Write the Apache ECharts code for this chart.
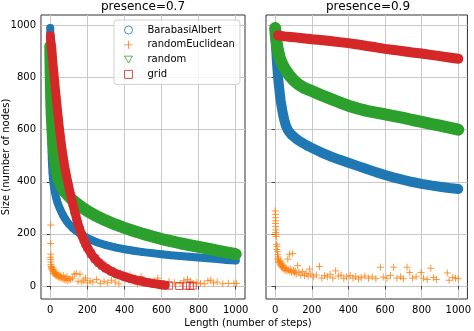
<!DOCTYPE html>
<html>
<head>
<meta charset="utf-8">
<script src="https://cdn.jsdelivr.net/npm/echarts@6/dist/echarts.min.js"></script>
<style>html,body{margin:0;padding:0;background:#fff}#c{width:474px;height:331px}</style>
</head>
<body>
<div id="c"></div>
<script>
// ---- data ----
var panelTitles = ['presence=0.7', 'presence=0.9'];
var seriesNames = ['BarabasiAlbert', 'randomEuclidean', 'random', 'grid'];
var xTicks = [0, 200, 400, 600, 800, 1000];
var yTicks = [0, 200, 400, 600, 800, 1000];

// presence = 0.7
var ba07 = [[0,990],[1,900],[2,800],[3,700],[4,630],[5,580],[6,545],[7,515],[8,490],[10,460],[12,435],[14,415],[17,395],[20,380],[25,360],[30,343],[35,330],[40,318],[50,300],[60,284],[70,270],[80,258],[90,247],[100,238],[120,223],[140,211],[160,201],[180,192],[200,184],[250,168],[300,157],[350,148],[400,141],[450,135],[500,130],[550,126],[600,122],[650,118],[700,115],[750,112],[800,109],[850,106],[900,103],[950,100],[1000,98]];
var rnd07 = [[0,920],[1,870],[2,825],[3,785],[4,750],[5,720],[6,695],[8,655],[10,625],[12,598],[15,565],[18,538],[21,515],[25,490],[30,462],[35,440],[40,422],[45,408],[50,397],[60,382],[70,370],[80,360],[90,352],[100,344],[120,330],[140,318],[160,307],[180,297],[200,288],[250,268],[300,251],[350,236],[400,223],[450,211],[500,200],[550,190],[600,180],[650,172],[700,164],[750,157],[800,150],[850,143],[900,136],[950,129],[1000,122]];
var grid07 = [[0,960],[5,925],[10,888],[15,850],[20,812],[25,775],[30,738],[35,702],[40,667],[45,633],[50,600],[55,570],[60,542],[65,516],[70,492],[75,470],[80,450],[85,431],[90,413],[95,396],[100,380],[110,348],[120,318],[130,290],[140,263],[150,238],[160,215],[170,195],[180,178],[190,162],[200,148],[220,124],[240,105],[260,90],[280,78],[300,68],[330,56],[360,46],[400,36],[440,27],[480,20],[520,14],[560,9],[600,5],[620,3]];
var grid07Sparse = [[641,1],[695,0],[735,1],[753,0],[768,1]];
var eucl07 = [[2,234],[2,163],[3,122],[2,110],[3,102],[4,92],[3,82],[5,75],[6,70],[8,66],[10,62],[12,58],[14,72],[16,55],[18,50],[20,62],[22,48],[25,45],[28,52],[30,40],[33,47],[36,38],[40,44],[44,35],[48,42],[52,30],[56,38],[60,33],[65,28],[70,40],[75,25],[80,32],[85,22],[90,36],[95,20],[100,28],[110,24],[120,30],[130,45],[140,48],[150,18],[160,45],[170,15],[180,22],[190,30],[200,12],[215,20],[230,15],[250,25],[270,10],[290,18],[310,12],[330,22],[350,15],[370,8],[390,36],[410,30],[430,42],[450,18],[470,8],[490,36],[510,15],[540,10],[560,20],[580,30],[610,8],[640,17],[670,12],[700,10],[720,20],[740,25],[755,18],[770,10],[790,14],[810,10],[830,8],[850,20],[865,22],[880,12],[900,15],[930,8],[960,10],[990,10],[1005,10]];

// presence = 0.9
var ba09 = [[0,990],[2,960],[4,935],[6,905],[8,880],[10,858],[12,838],[15,810],[18,787],[22,760],[26,735],[30,712],[35,690],[40,670],[45,652],[50,637],[55,624],[60,613],[70,598],[80,588],[90,580],[100,573],[120,562],[140,553],[160,545],[180,537],[200,530],[250,513],[300,498],[350,485],[400,473],[450,461],[500,449],[550,437],[600,426],[650,416],[700,407],[750,399],[800,392],[850,386],[900,381],[950,376],[1000,372]];
var rnd09 = [[0,990],[3,965],[6,945],[10,925],[15,905],[20,890],[25,877],[30,866],[40,850],[50,837],[60,826],[70,816],[80,806],[90,798],[100,790],[120,778],[140,768],[160,760],[180,754],[200,748],[250,733],[300,719],[350,705],[400,692],[450,681],[500,672],[550,665],[600,659],[650,652],[700,645],[750,637],[800,630],[850,622],[900,615],[950,608],[1000,600]];
var grid09 = [[15,962],[50,958],[100,955],[150,951],[200,947],[250,944],[300,940],[350,936],[400,932],[450,927],[500,921],[550,916],[600,910],[650,906],[700,901],[750,896],[800,892],[850,887],[900,882],[950,877],[1000,872]];
var eucl09 = [[0,288],[2,275],[1,262],[3,250],[2,240],[3,228],[4,215],[3,205],[5,198],[6,190],[8,160],[10,152],[9,140],[12,132],[14,120],[16,112],[15,105],[18,100],[20,95],[22,90],[25,88],[28,82],[30,95],[32,78],[35,74],[38,85],[40,70],[44,78],[48,65],[52,72],[55,60],[60,68],[65,58],[69,103],[72,62],[78,122],[80,55],[85,65],[90,52],[96,125],[100,60],[105,50],[110,58],[115,45],[123,78],[130,52],[140,42],[150,55],[160,40],[170,48],[180,38],[188,65],[195,45],[210,35],[225,42],[242,75],[255,30],[270,40],[285,35],[300,45],[315,30],[330,58],[345,38],[360,42],[375,28],[390,35],[410,40],[425,30],[440,36],[455,27],[470,32],[490,38],[510,30],[530,35],[550,28],[575,72],[590,34],[610,30],[630,40],[647,72],[665,30],[685,35],[700,28],[720,72],[735,52],[750,30],[770,35],[797,52],[810,30],[830,25],[850,68],[865,32],[880,25],[940,50],[950,22],[970,33],[985,30],[1000,28]];

// ---- styling ----
var colors = ['#1f77b4', '#ff7f0e', '#2ca02c', '#d62728'];
var FONT = 'DejaVu Sans';
var plusPath = 'path://M5,0L5,10M0,5L10,5';
var triDownPath = 'path://M0,0.7L10,0.7L5,9.36Z';

var chart = echarts.init(document.getElementById('c'), null, {renderer: 'canvas'});

function plain(v) { return String(v); }
function grid(left) {
  return {left: left, top: 15, width: 204, height: 284, show: true,
          borderColor: '#333', borderWidth: 1, backgroundColor: 'transparent'};
}
function xAxis(i) {
  return {gridIndex: i, type: 'value', min: -50, max: 1050,
    axisLine: {show: false},
    axisTick: {show: true, length: 3.5, customValues: xTicks, lineStyle: {color: '#333', width: 0.9}},
    axisLabel: {show: true, customValues: xTicks, formatter: plain, fontSize: 10, color: '#000', margin: 6, fontFamily: FONT},
    splitLine: {show: true, lineStyle: {color: '#c8c8c8', width: 1}}};
}
function yAxis(i, labels) {
  return {gridIndex: i, type: 'value', min: -50, max: 1040,
    axisLine: {show: false},
    axisTick: {show: true, length: 3.5, customValues: yTicks, lineStyle: {color: '#333', width: 0.9}},
    axisLabel: {show: labels, customValues: yTicks, formatter: plain, fontSize: 10, color: '#000', margin: 5, fontFamily: FONT},
    splitLine: {show: true, lineStyle: {color: '#c8c8c8', width: 1}}};
}
function band(name, data, color, width, idx) {
  return {type: 'line', name: name, data: data, xAxisIndex: idx, yAxisIndex: idx,
    showSymbol: false, symbol: 'none', silent: true, smooth: false,
    lineStyle: {color: color, width: width, cap: 'round', join: 'round'}};
}
function pts(name, data, color, symbol, size, idx, rot) {
  return {type: 'scatter', name: name, data: data, xAxisIndex: idx, yAxisIndex: idx,
    symbol: symbol, symbolSize: size, symbolRotate: rot || 0, silent: true,
    itemStyle: {color: 'rgba(0,0,0,0)', borderColor: color, borderWidth: 1}};
}

var series = [];
var panels = [
  {ba: ba07, eu: eucl07, rn: rnd07, gr: grid07, grs: grid07Sparse, w: [8, 12, 9]},
  {ba: ba09, eu: eucl09, rn: rnd09, gr: grid09, grs: [], w: [10, 12, 10]}
];
panels.forEach(function (p, i) {
  series.push(band('ba-band-' + i, p.ba, colors[0], p.w[0], i));
  series.push(pts(seriesNames[0], p.ba, colors[0], 'circle', 7, i));
  series.push(pts(seriesNames[1], p.eu, colors[1], plusPath, 7, i));
  series.push(band('rn-band-' + i, p.rn, colors[2], p.w[1], i));
  series.push(pts(seriesNames[2], p.rn, colors[2], 'triangle', 7, i, 180));
  series.push(band('gr-band-' + i, p.gr, colors[3], p.w[2], i));
  series.push(pts(seriesNames[3], p.gr.concat(p.grs), colors[3], 'rect', 7, i));
});

var option = {
  animation: false,
  backgroundColor: '#fff',
  textStyle: {fontFamily: FONT},
  grid: [grid(41), grid(266)],
  xAxis: [xAxis(0), xAxis(1)],
  yAxis: [yAxis(0, true), yAxis(1, false)],
  legend: {
    left: 114, top: 20, orient: 'vertical',
    itemWidth: 8, itemHeight: 8, itemGap: 4.8,
    padding: [5, 5, 5, 10],
    borderColor: '#d0d0d0', borderWidth: 1, borderRadius: 3,
    backgroundColor: 'rgba(255,255,255,0.8)',
    itemStyle: {borderWidth: 1},
    textStyle: {fontSize: 10, lineHeight: 10, color: '#000', fontFamily: FONT, padding: [0, 0, 0, 10]},
    data: [
      {name: seriesNames[0], icon: 'circle'},
      {name: seriesNames[1], icon: plusPath},
      {name: seriesNames[2], icon: triDownPath},
      {name: seriesNames[3], icon: 'rect'}
    ]
  },
  graphic: [
    {type: 'text', x: 143, y: 7, style: {text: panelTitles[0], font: '12px "DejaVu Sans"', fill: '#000', textAlign: 'center', textVerticalAlign: 'middle', verticalAlign: 'middle'}},
    {type: 'text', x: 368, y: 7, style: {text: panelTitles[1], font: '12px "DejaVu Sans"', fill: '#000', textAlign: 'center', textVerticalAlign: 'middle', verticalAlign: 'middle'}},
    {type: 'text', x: 6, y: 157, rotation: Math.PI / 2, style: {text: 'Size (number of nodes)', font: '10px "DejaVu Sans"', fill: '#000', textAlign: 'center', textVerticalAlign: 'middle', verticalAlign: 'middle'}},
    {type: 'text', x: 248, y: 323, style: {text: 'Length (number of steps)', font: '10px "DejaVu Sans"', fill: '#000', textAlign: 'center', textVerticalAlign: 'middle', verticalAlign: 'middle'}}
  ],
  series: series
};
chart.setOption(option);
</script>
</body>
</html>
